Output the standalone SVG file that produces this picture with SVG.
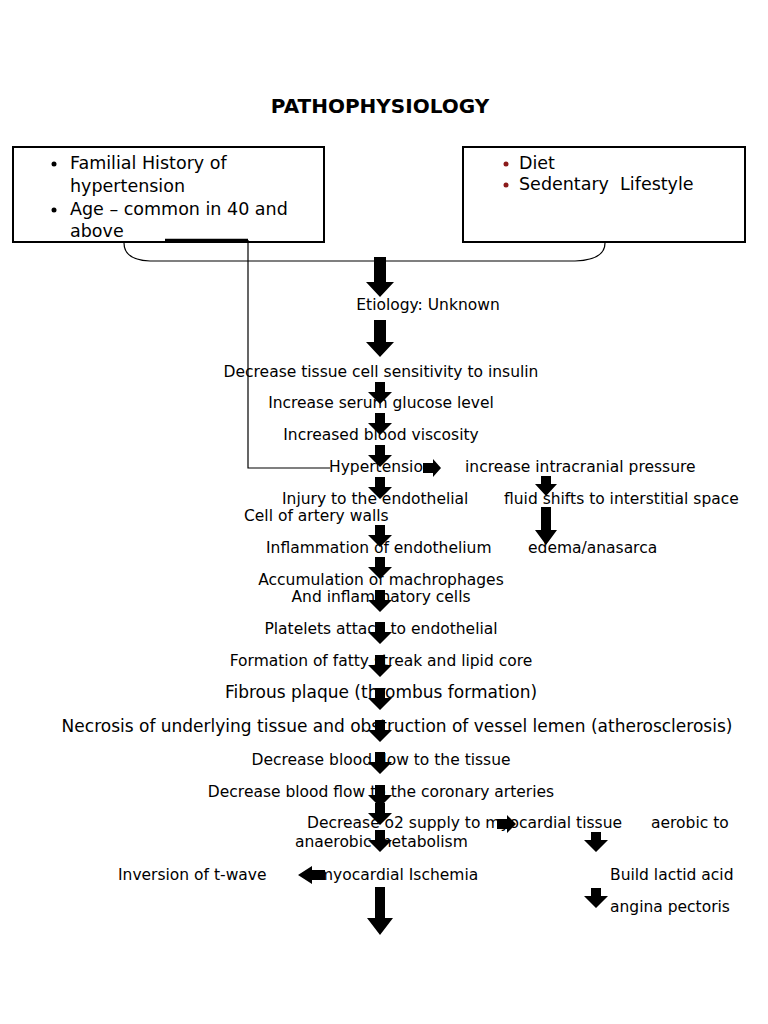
<svg xmlns="http://www.w3.org/2000/svg" width="768" height="1024" viewBox="0 0 768 1024">
<style>
text{font-family:"DejaVu Sans","Liberation Sans",sans-serif;font-size:15.5px;fill:#000}
.t{font-size:20px;font-weight:bold}
.b{font-size:17.5px}
.l{font-size:17px}
.box{fill:#fff;stroke:#000;stroke-width:2}
.ar{fill:#000}
.ln{fill:none;stroke:#000;stroke-width:1.2}
</style>
<rect width="768" height="1024" fill="#fff"/>
<text class="t" x="380" y="113" text-anchor="middle">PATHOPHYSIOLOGY</text>
<g id="box1"><rect class="box" x="13" y="147" width="311" height="95"/>
<circle cx="54" cy="164" r="2.5"/><text class="b" x="70" y="169">Familial History of</text><text class="b" x="70" y="192">hypertension</text>
<circle cx="54" cy="210" r="2.5"/><text class="b" x="70" y="215">Age – common in 40 and</text><text class="b" x="70" y="237">above</text></g>
<g id="box2"><rect class="box" x="463" y="147" width="282" height="95"/>
<circle cx="506" cy="164" r="2.5" fill="#8b1a1a"/><text class="b" x="519" y="169">Diet</text>
<circle cx="506" cy="185" r="2.5" fill="#8b1a1a"/><text class="b" x="519" y="190" xml:space="preserve">Sedentary  Lifestyle</text></g>
<g id="connectors">
<path class="ln" d="M124,243 Q124,260 150,261 H575 Q605,260 605,243"/>
<path d="M165,240 H248" stroke="#000" stroke-width="2.5"/>
<path class="ln" d="M248,240 V468 H330"/>
<g class="ar">
<polygon points="374,257 386,257 386,282 394,282 380,297 366,282 374,282"/>
<polygon points="374,320 386,320 386,342 394,342 380,357 366,342 374,342"/>
<polygon points="375,382 385,382 385,392 392,392 380,404 368,392 375,392"/>
<polygon points="375,413 385,413 385,423 392,423 380,435 368,423 375,423"/>
<polygon points="375,445 385,445 385,455 392,455 380,467 368,455 375,455"/>
<polygon points="375,477 385,477 385,487 392,487 380,499 368,487 375,487"/>
<polygon points="375,525 385,525 385,535 392,535 380,547 368,535 375,535"/>
<polygon points="375,557 385,557 385,567 392,567 380,579 368,567 375,567"/>
<polygon points="375,590 385,590 385,600 392,600 380,612 368,600 375,600"/>
<polygon points="375,622 385,622 385,632 392,632 380,644 368,632 375,632"/>
<polygon points="375,655 385,655 385,665 392,665 380,677 368,665 375,665"/>
<polygon points="375,688 385,688 385,698 392,698 380,710 368,698 375,698"/>
<polygon points="375,720 385,720 385,730 392,730 380,742 368,730 375,730"/>
<polygon points="375,752 385,752 385,762 392,762 380,774 368,762 375,762"/>
<polygon points="375,785 385,785 385,795 392,795 380,807 368,795 375,795"/>
<polygon points="375,803 385,803 385,813 392,813 380,825 368,813 375,813"/>
<polygon points="375,830 385,830 385,840 392,840 380,852 368,840 375,840"/>
<polygon points="375,887 385,887 385,918 393,918 380,935 367,918 375,918"/>
<polygon points="423,463 433,463 433,459 441,468 433,477 433,473 423,473"/>
<polygon points="497,819 507,819 507,815 516,824 507,833 507,829 497,829"/>
<polygon points="325,870 312,870 312,866 298,875 312,884 312,880 325,880"/>
<polygon points="541,476 551,476 551,484 557,484 546,496 535,484 541,484"/>
<polygon points="541,507 551,507 551,530 557,530 546,545 535,530 541,530"/>
<polygon points="591,832 601,832 601,840 608,840 596,852 584,840 591,840"/>
<polygon points="591,888 601,888 601,896 608,896 596,908 584,896 591,896"/>
</g>
</g>
<g id="labels">
<text x="428" y="310" text-anchor="middle">Etiology: Unknown</text>
<text x="381" y="377" text-anchor="middle">Decrease tissue cell sensitivity to insulin</text>
<text x="381" y="408" text-anchor="middle">Increase serum glucose level</text>
<text x="381" y="440" text-anchor="middle">Increased blood viscosity</text>
<text x="329" y="472">Hypertension</text>
<text x="465" y="472">increase intracranial pressure</text>
<text x="282" y="504">Injury to the endothelial</text>
<text x="504" y="504">fluid shifts to interstitial space</text>
<text x="244" y="521">Cell of artery walls</text>
<text x="266" y="553">Inflammation of endothelium</text>
<text x="528" y="553">edema/anasarca</text>
<text x="381" y="585" text-anchor="middle">Accumulation of machrophages</text>
<text x="381" y="602" text-anchor="middle">And inflammatory cells</text>
<text x="381" y="634" text-anchor="middle">Platelets attach to endothelial</text>
<text x="381" y="666" text-anchor="middle">Formation of fatty streak and lipid core</text>
<text class="l" x="381" y="698" text-anchor="middle">Fibrous plaque (thrombus formation)</text>
<text class="l" x="397" y="732" text-anchor="middle">Necrosis of underlying tissue and obstruction of vessel lemen (atherosclerosis)</text>
<text x="381" y="765" text-anchor="middle">Decrease blood flow to the tissue</text>
<text x="381" y="797" text-anchor="middle">Decrease blood flow to the coronary arteries</text>
<text x="307" y="828">Decrease o2 supply to myocardial tissue</text>
<text x="651" y="828">aerobic to</text>
<text x="295" y="847">anaerobic metabolism</text>
<text x="118" y="880">Inversion of t-wave</text>
<text x="318" y="880">myocardial Ischemia</text>
<text x="610" y="880">Build lactid acid</text>
<text x="610" y="912">angina pectoris</text>
</g>
</svg>
